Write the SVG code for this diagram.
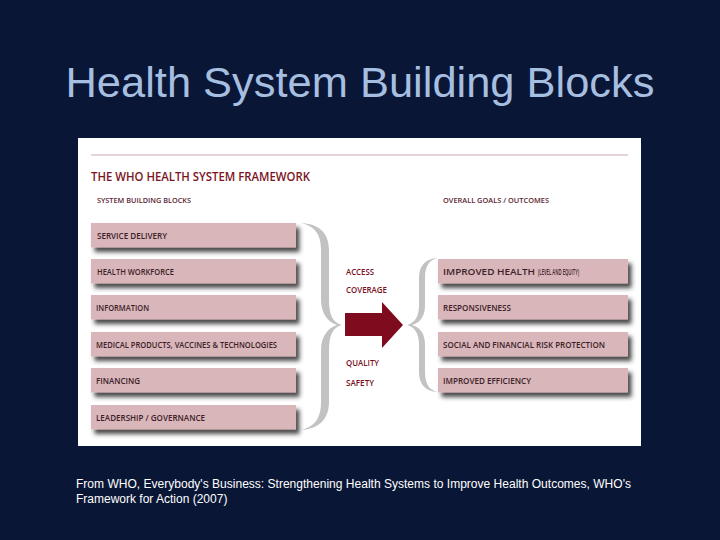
<svg xmlns="http://www.w3.org/2000/svg" width="720" height="540" viewBox="0 0 720 540">
<style>
.title{font-family:"Liberation Sans",Arial,sans-serif;font-size:43px;fill:#a6bfe0}
.cap{font-family:"Liberation Sans",Arial,sans-serif;font-size:12px;fill:#ffffff}
.box{fill:#d9b6ba}
.bt{font-family:"Open Sans","Liberation Sans",sans-serif;font-weight:600;font-size:8px;fill:#3c2228}
.red{font-family:"Open Sans","Liberation Sans",sans-serif;font-weight:600;font-size:8px;fill:#7a1022}
.sub{font-family:"Open Sans","Liberation Sans",sans-serif;font-weight:600;font-size:7.5px;fill:#5a2430}
.brace{fill:#c2c2c2}
</style>
<defs>
<filter id="sh" x="-5%" y="-30%" width="115%" height="180%">
<feDropShadow dx="3.5" dy="4.5" stdDeviation="2" flood-color="#2a2a2a" flood-opacity="0.85"/>
</filter>
</defs>
<rect width="720" height="540" fill="#0a1636"/>
<text class="title" x="360" y="97" text-anchor="middle" textLength="589" lengthAdjust="spacingAndGlyphs">Health System Building Blocks</text>
<rect x="78" y="138" width="563" height="308" fill="#ffffff"/>
<line x1="91" y1="155" x2="628" y2="155" stroke="#c9aab0" stroke-width="1"/>
<text x="91" y="181" font-family="'Open Sans','Liberation Sans',sans-serif" font-weight="600" font-size="12.5" fill="#7a1424" textLength="219" lengthAdjust="spacingAndGlyphs">THE WHO HEALTH SYSTEM FRAMEWORK</text>
<text class="sub" x="97" y="203" textLength="94" lengthAdjust="spacingAndGlyphs">SYSTEM BUILDING BLOCKS</text>
<text class="sub" x="443" y="203" textLength="106" lengthAdjust="spacingAndGlyphs">OVERALL GOALS / OUTCOMES</text>

<g id="service-delivery"><rect class="box" x="91" y="223" width="205" height="24.5" filter="url(#sh)"/><text class="bt" x="97" y="238.5" textLength="70" lengthAdjust="spacingAndGlyphs">SERVICE DELIVERY</text></g>
<g id="health-workforce"><rect class="box" x="91" y="259" width="205" height="24.5" filter="url(#sh)"/><text class="bt" x="97" y="274.5" textLength="77" lengthAdjust="spacingAndGlyphs">HEALTH WORKFORCE</text></g>
<g id="information"><rect class="box" x="91" y="295" width="205" height="24.5" filter="url(#sh)"/><text class="bt" x="96" y="310.5" textLength="53" lengthAdjust="spacingAndGlyphs">INFORMATION</text></g>
<g id="medical-products"><rect class="box" x="91" y="332" width="205" height="24.5" filter="url(#sh)"/><text class="bt" x="96" y="347.5" textLength="181" lengthAdjust="spacingAndGlyphs">MEDICAL PRODUCTS, VACCINES &amp; TECHNOLOGIES</text></g>
<g id="financing"><rect class="box" x="91" y="368" width="205" height="24.5" filter="url(#sh)"/><text class="bt" x="96" y="383.5" textLength="44" lengthAdjust="spacingAndGlyphs">FINANCING</text></g>
<g id="leadership"><rect class="box" x="91" y="405" width="205" height="24.5" filter="url(#sh)"/><text class="bt" x="96" y="420.5" textLength="109" lengthAdjust="spacingAndGlyphs">LEADERSHIP / GOVERNANCE</text></g>

<g id="improved-health"><rect class="box" x="438" y="259" width="190" height="24.5" filter="url(#sh)"/><text class="bt" x="443" y="274.8" font-size="9.2" textLength="92" lengthAdjust="spacingAndGlyphs">IMPROVED HEALTH</text><text class="bt" x="538" y="274.5" font-size="5.5" textLength="41" lengthAdjust="spacingAndGlyphs">(LEVEL AND EQUITY)</text></g>
<g id="responsiveness"><rect class="box" x="438" y="295" width="190" height="24.5" filter="url(#sh)"/><text class="bt" x="443" y="310.5" textLength="68" lengthAdjust="spacingAndGlyphs">RESPONSIVENESS</text></g>
<g id="risk-protection"><rect class="box" x="438" y="332" width="190" height="24.5" filter="url(#sh)"/><text class="bt" x="443" y="347.5" textLength="162" lengthAdjust="spacingAndGlyphs">SOCIAL AND FINANCIAL RISK PROTECTION</text></g>
<g id="improved-efficiency"><rect class="box" x="438" y="368" width="190" height="24.5" filter="url(#sh)"/><text class="bt" x="443" y="383.5" textLength="88" lengthAdjust="spacingAndGlyphs">IMPROVED EFFICIENCY</text></g>

<g id="connectors">
<path class="brace" d="M301,223 C318,224 329,232 329,250 L329,300 C329,315 333,323 342,325 C333,327 329,335 329,350 L329,402 C329,420 318,429 301,430 C313,427 321,420 321,402 L321,350 C321,338 327,328 337,325 C327,322 321,312 321,300 L321,250 C321,232 313,226 301,223 Z"/>
<path class="brace" d="M437,258 C426,259 419,265 419,278 L419,305 C419,316 415,323 407,325 C415,327 419,334 419,345 L419,372 C419,385 426,391 437,392 C430,390 425,385 425,372 L425,345 C425,334 421,328 412,325 C421,322 425,316 425,305 L425,278 C425,265 430,260 437,258 Z"/>
<path d="M345,313 L382,313 L382,302 L403,325 L382,348 L382,336 L345,336 Z" fill="#7f0c1e"/>
</g>
<text class="red" x="346" y="275" textLength="28" lengthAdjust="spacingAndGlyphs">ACCESS</text>
<text class="red" x="346" y="293" textLength="41" lengthAdjust="spacingAndGlyphs">COVERAGE</text>
<text class="red" x="346" y="366" textLength="33" lengthAdjust="spacingAndGlyphs">QUALITY</text>
<text class="red" x="346" y="386" textLength="28" lengthAdjust="spacingAndGlyphs">SAFETY</text>

<text class="cap" x="76" y="488" textLength="555" lengthAdjust="spacingAndGlyphs">From WHO, Everybody's Business: Strengthening Health Systems to Improve Health Outcomes, WHO's</text>
<text class="cap" x="76" y="503">Framework for Action (2007)</text>
</svg>
